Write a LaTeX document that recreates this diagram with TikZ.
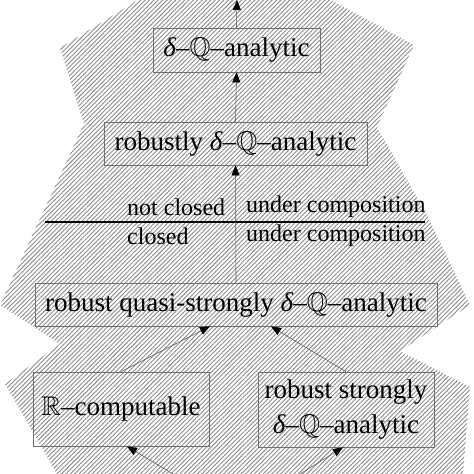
\documentclass[tikz,border=0pt]{standalone}
\usepackage{amssymb}
\usepackage{fontspec}
\setmainfont{Liberation Serif}
\usetikzlibrary{arrows.meta, calc, patterns.meta}
\definecolor{hatchgray}{HTML}{8A8A8A}
\definecolor{boxgray}{HTML}{707070}
\definecolor{arrowgray}{HTML}{606060}

\begin{document}
\begin{tikzpicture}[
  x=1pt, y=-1pt,
  every node/.style={font=\fontsize{27}{35}\selectfont},
  classbox/.style={rectangle, draw=boxgray, line width=0.7pt, inner sep=0pt, align=center},
  sidelabel/.style={font=\fontsize{24}{28}\selectfont, anchor=west, inner sep=0pt},
  implies/.style={-{Triangle[length=10pt, width=8pt, black]}, arrowgray, line width=0.6pt},
]

% hatched region
\fill[pattern={Lines[angle=45, distance=3.1pt, line width=0.9pt]}, pattern color=hatchgray]
  (138,0) -- (331,0) -- (414,45) -- (377,127) -- (427,215) -- (470,305) -- (400,351)
  -- (470,387) -- (463,474) -- (57,474) -- (5,384) -- (60,344) -- (0,305)
  -- (84,124) -- (60,48) -- cycle;

\useasboundingbox (0,0) rectangle (474,474);

% classes
\node[classbox, minimum width=167pt, minimum height=44pt] (dq) at (236.5,50) {\textit{δ}--$\mathbb{Q}$--analytic};
\node[classbox, minimum width=263pt, minimum height=43pt] (rob) at (235.5,143.5) {robustly \textit{δ}--$\mathbb{Q}$--analytic};
\node[classbox, minimum width=402pt, minimum height=43pt] (quasi) at (236,304.5) {robust quasi-strongly \textit{δ}--$\mathbb{Q}$--analytic};
\node[classbox, minimum width=176pt, minimum height=74pt] (rcomp) at (121,409) {$\mathbb{R}$--computable};
\node[classbox, minimum width=176pt, minimum height=75pt] (strong) at (346,409.5) {robust strongly\\\textit{δ}--$\mathbb{Q}$--analytic};

% composition border
\coordinate (lineL) at (45,222);
\coordinate (lineR) at (425,222);
\draw[line width=2.5pt] (lineL) -- (lineR);
\node[sidelabel] (nc) at (127,207) {not closed};
\node[sidelabel] (uc1) at (246,207) {under composition};
\node[sidelabel] (cl) at (127,236) {closed};
\node[sidelabel] (uc2) at (246,236) {under composition};

% loose ends
\coordinate (top) at (237,0);
\coordinate (botL) at (173,474);
\coordinate (botR) at (300,474);

% implications
\draw[implies] (dq.north) -- (top);
\draw[implies] (rob.north) -- (dq.south);
\draw[implies] (quasi.north) -- (rob.south);
\draw[implies] (rcomp.north) -- ($(quasi.south)+(-26,0)$);
\draw[implies] (strong.north) -- ($(quasi.south)+(35,0)$);
\draw[implies] (botL) -- ($(rcomp.south)+(6,0)$);
\draw[implies] (botR) -- ($(strong.south)+(-3,0)$);

\end{tikzpicture}
\end{document}
